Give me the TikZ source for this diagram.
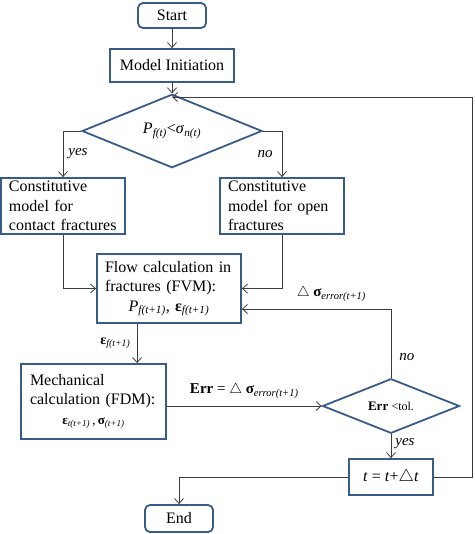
\documentclass[tikz,border=0pt]{standalone}
\usepackage{fontspec}
\setmainfont{Liberation Serif}
\usetikzlibrary{shapes.geometric,arrows.meta}

\definecolor{boxblue}{RGB}{56,92,138}
\definecolor{linegray}{RGB}{60,60,60}
\newcommand{\tri}{$\bigtriangleup$}
\newcommand{\sub}[1]{\textsubscript{\textit{#1}}}

\begin{document}
\begin{tikzpicture}[x=1pt,y=-1pt,
  box/.style={draw=boxblue,line width=1.8pt,inner sep=0pt,font=\fontsize{16}{19.5}\selectfont},
  rbox/.style={box,rounded corners=5pt},
  textbox/.style={box,align=left,inner xsep=8pt},
  decision/.style={diamond,draw=boxblue,line width=1.8pt,inner sep=0pt},
  conn/.style={draw=linegray,line width=0.8pt,-{Straight Barb[length=5pt,width=9pt]}},
  lbl/.style={font=\fontsize{15}{17}\selectfont\itshape,inner sep=0pt}]
  \useasboundingbox (0,0) rectangle (474,534);
  % boxes
  \node[rbox,minimum width=68pt,minimum height=25pt] (start) at (172,15.5) {Start};
  \node[box,minimum width=124pt,minimum height=33pt] (init) at (172,65.5) {Model Initiation};
  \node[decision,minimum width=180pt,minimum height=40pt,font=\fontsize{16}{18}\selectfont] (check) at (172,131)
    {\textit{P}\sub{f(t)}<\textit{σ}\sub{n(t)}};
  \node[textbox,minimum width=124pt,minimum height=56pt,text width=108pt] (contact) at (63,206)
    {Constitutive\\ model for\\ contact fractures};
  \node[textbox,minimum width=124pt,minimum height=56pt,text width=108pt] (open) at (282,206)
    {Constitutive\\ model for open\\ fractures};
  \node[textbox,minimum width=144pt,minimum height=69pt,text width=128pt] (flow) at (169,288.5)
    {Flow calculation in\\ fractures (FVM):\par
     \centerline{\textit{P}\sub{f(t+1)}, \textbf{ε}\sub{f(t+1)}}};
  \node[textbox,minimum width=145pt,minimum height=75pt,text width=127pt,inner xsep=9pt] (mech) at (93.5,401.5)
    {Mechanical\\ calculation (FDM):\par
     \centerline{\fontsize{13}{15}\selectfont\textbf{ε}\sub{t(t+1)}\,,\,\textbf{σ}\sub{(t+1)}}};
  \node[decision,minimum width=137pt,minimum height=48pt,font=\fontsize{13}{15}\selectfont] (tolcheck) at (391,406)
    {\textbf{Err} {\fontsize{12}{14}\selectfont <tol.}};
  \node[box,minimum width=84pt,minimum height=36pt] (tstep) at (391,477)
    {\textit{t} = \textit{t}+\tri\textit{t}};
  \node[rbox,minimum width=68pt,minimum height=27pt] (end) at (179,518.5) {End};
  \coordinate (join) at (172,97);
  \coordinate (loop) at (472,97);
  % connectors
  \draw[conn] (start) -- (init);
  \draw[conn] (init) -- (check);
  \draw[conn] (check.west) -| node[lbl,pos=0.75,anchor=west,xshift=5pt] {yes} (contact.north);
  \draw[conn] (check.east) -| node[lbl,pos=0.75,anchor=east,xshift=-9pt] {no} (open.north);
  \draw[conn] (contact.south) |- (flow.west);
  \draw[conn] (open.south) |- (flow.east);
  \draw[conn] ([xshift=41pt]flow.south west) -- ([xshift=41pt]flow.south west |- mech.north)
    node[midway,anchor=east,xshift=-3pt,font=\fontsize{14}{16}\selectfont] {\textbf{ε}\sub{f(t+1)}};
  \draw[conn] (mech.east |- tolcheck.west) -- (tolcheck.west)
    node[midway,above=4pt,font=\fontsize{15}{17}\selectfont] {\textbf{Err} = \tri\ \textbf{σ}\sub{error(t+1)}};
  \draw[conn] (tolcheck.north) |- ([yshift=-20.5pt]flow.east)
    node[pos=0.7,above=4pt,font=\fontsize{15}{17}\selectfont] {\tri\ \textbf{σ}\sub{error(t+1)}}
    node[lbl,pos=0.15,anchor=west,xshift=8pt] {no};
  \draw[conn] (tolcheck.south) -- (tstep.north) node[lbl,midway,anchor=west,xshift=4pt,yshift=3pt] {yes};
  \draw[conn] (tstep.west) -| (end.north);
  \draw[conn] (tstep.east) -| (loop) -- (join);
\end{tikzpicture}
\end{document}
